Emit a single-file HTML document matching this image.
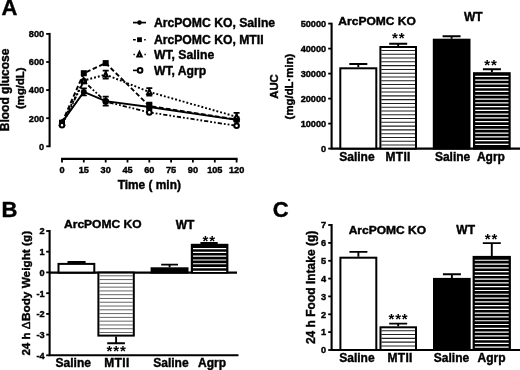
<!DOCTYPE html>
<html><head><meta charset="utf-8"><title>Figure</title>
<style>
html,body{margin:0;padding:0;background:#fff;}
body{width:520px;height:370px;overflow:hidden;}
svg{display:block;}
text.s{letter-spacing:0.9px;stroke:none}
text.m{letter-spacing:0.35px}
text{font-family:"Liberation Sans",sans-serif;font-weight:bold;fill:#000;stroke:#000;stroke-width:0.4px;}
.ax{stroke:#000;stroke-width:2.1;fill:none;}
.tk{stroke:#000;stroke-width:1.8;fill:none;}
.eb{stroke:#000;stroke-width:1.9;fill:none;}
.hl{stroke:#222;stroke-width:1.05;fill:none;}
.hw{stroke:#fff;stroke-width:1.2;fill:none;}
</style></head><body>
<svg width="520" height="370" viewBox="0 0 520 370">
<rect width="520" height="370" fill="#fff"/>

<text x="1.4" y="15.3" font-size="22" text-anchor="start" >A</text>
<path class="ax" d="M49.6,32.9 V147.20000000000002"/>
<path class="tk" d="M46.2,146.3 H49.6"/>
<text x="44.2" y="149.6" font-size="9.2" text-anchor="end" >0</text>
<path class="tk" d="M46.2,118.2 H49.6"/>
<text x="44.2" y="121.5" font-size="9.2" text-anchor="end" >200</text>
<path class="tk" d="M46.2,90.1 H49.6"/>
<text x="44.2" y="93.4" font-size="9.2" text-anchor="end" >400</text>
<path class="tk" d="M46.2,62.0 H49.6"/>
<text x="44.2" y="65.3" font-size="9.2" text-anchor="end" >600</text>
<path class="tk" d="M46.2,33.9 H49.6"/>
<text x="44.2" y="37.2" font-size="9.2" text-anchor="end" >800</text>
<path class="ax" d="M61.0,158.9 H237.6"/>
<path class="tk" d="M62.0,158.9 V162.5"/>
<text x="62.0" y="172.9" font-size="9.2" text-anchor="middle" >0</text>
<path class="tk" d="M83.8,158.9 V162.5"/>
<text x="83.8" y="172.9" font-size="9.2" text-anchor="middle" >15</text>
<path class="tk" d="M105.7,158.9 V162.5"/>
<text x="105.7" y="172.9" font-size="9.2" text-anchor="middle" >30</text>
<path class="tk" d="M127.5,158.9 V162.5"/>
<text x="127.5" y="172.9" font-size="9.2" text-anchor="middle" >45</text>
<path class="tk" d="M149.3,158.9 V162.5"/>
<text x="149.3" y="172.9" font-size="9.2" text-anchor="middle" >60</text>
<path class="tk" d="M171.1,158.9 V162.5"/>
<text x="171.1" y="172.9" font-size="9.2" text-anchor="middle" >75</text>
<path class="tk" d="M192.9,158.9 V162.5"/>
<text x="192.9" y="172.9" font-size="9.2" text-anchor="middle" >90</text>
<path class="tk" d="M214.8,158.9 V162.5"/>
<text x="214.8" y="172.9" font-size="9.2" text-anchor="middle" >105</text>
<path class="tk" d="M236.6,158.9 V162.5"/>
<text x="236.6" y="172.9" font-size="9.2" text-anchor="middle" >120</text>
<text x="149.3" y="188.5" font-size="11.9" text-anchor="middle" >Time ( min)</text>
<text transform="translate(9.1,89.9) rotate(-90)" font-size="12" text-anchor="middle" >Blood glucose</text>
<text transform="translate(23.6,88.2) rotate(-90)" font-size="11.3" text-anchor="middle" >(mg/dL)</text>
<polyline points="62.0,123.1 83.8,80.5 105.7,74.6 149.3,91.9 236.6,116.8" fill="none" stroke="#000" stroke-width="1.9" stroke-dasharray="1.9 2.0"/>
<polyline points="62.0,125.2 83.8,81.2 105.7,101.6 149.3,112.4 236.6,125.8" fill="none" stroke="#000" stroke-width="1.8" stroke-dasharray="4.2 2 1.8 2 1.8 2"/>
<polyline points="62.0,122.7 83.8,73.2 105.7,63.1 149.3,106.0 236.6,119.5" fill="none" stroke="#000" stroke-width="1.9" stroke-dasharray="4.6 2.5"/>
<polyline points="62.0,122.4 83.8,91.9 105.7,101.1 149.3,107.0 236.6,119.9" fill="none" stroke="#000" stroke-width="1.9"/>
<circle cx="105.7" cy="101.6" r="2.3" fill="#fff" stroke="#000" stroke-width="2"/>
<circle cx="62.0" cy="122.4" r="3.0" fill="#000"/>
<path d="M83.8,88.3 V95.5 M80.8,88.3 h6 M80.8,95.5 h6" stroke="#000" stroke-width="1.7" fill="none"/>
<circle cx="83.8" cy="91.9" r="3.0" fill="#000"/>
<path d="M105.7,96.6 V105.6 M102.7,96.6 h6 M102.7,105.6 h6" stroke="#000" stroke-width="1.7" fill="none"/>
<circle cx="105.7" cy="101.1" r="3.0" fill="#000"/>
<circle cx="149.3" cy="107.0" r="3.0" fill="#000"/>
<circle cx="236.6" cy="119.9" r="3.0" fill="#000"/>
<rect x="59.0" y="119.7" width="6.0" height="6.0" fill="#000"/>
<rect x="80.8" y="70.2" width="6.0" height="6.0" fill="#000"/>
<rect x="102.7" y="60.1" width="6.0" height="6.0" fill="#000"/>
<path d="M149.3,102.6 V109.4 M146.3,102.6 h6 M146.3,109.4 h6" stroke="#000" stroke-width="1.7" fill="none"/>
<rect x="146.3" y="103.0" width="6.0" height="6.0" fill="#000"/>
<rect x="233.6" y="116.5" width="6.0" height="6.0" fill="#000"/>
<path d="M62.0,120.7 L64.1,125.1 H59.9 Z" fill="#fff" stroke="#000" stroke-width="2" stroke-linejoin="miter"/>
<path d="M83.8,78.1 L85.9,82.5 H81.7 Z" fill="#fff" stroke="#000" stroke-width="2" stroke-linejoin="miter"/>
<path d="M105.7,70.6 V78.6 M102.7,70.6 h6 M102.7,78.6 h6" stroke="#000" stroke-width="1.7" fill="none"/>
<path d="M105.7,72.2 L107.8,76.6 H103.6 Z" fill="#fff" stroke="#000" stroke-width="2" stroke-linejoin="miter"/>
<path d="M149.3,88.1 V95.7 M146.3,88.1 h6 M146.3,95.7 h6" stroke="#000" stroke-width="1.7" fill="none"/>
<path d="M149.3,89.5 L151.4,93.9 H147.2 Z" fill="#fff" stroke="#000" stroke-width="2" stroke-linejoin="miter"/>
<path d="M236.6,112.8 V120.8 M233.6,112.8 h6 M233.6,120.8 h6" stroke="#000" stroke-width="1.7" fill="none"/>
<path d="M236.6,114.4 L238.7,118.8 H234.5 Z" fill="#fff" stroke="#000" stroke-width="2" stroke-linejoin="miter"/>
<circle cx="62.0" cy="125.2" r="2.3" fill="#fff" stroke="#000" stroke-width="2"/>
<circle cx="83.8" cy="81.2" r="2.3" fill="none" stroke="#000" stroke-width="2"/>
<circle cx="149.3" cy="112.4" r="2.3" fill="#fff" stroke="#000" stroke-width="2"/>
<circle cx="236.6" cy="125.8" r="2.3" fill="#fff" stroke="#000" stroke-width="2"/>
<path d="M133,22.6 H146" stroke="#000" stroke-width="1.7"/>
<circle cx="139.5" cy="22.6" r="2.3" fill="#000"/>
<path d="M133,39.7 h2.8 M144.2,39.7 h1.5" stroke="#000" stroke-width="1.6"/>
<rect x="137.1" y="37.3" width="4.8" height="4.8" fill="#000"/>
<path d="M133.5,54.6 h1.4 M144.4,54.6 h1.4" stroke="#000" stroke-width="1.5"/>
<path d="M139.5,51.9 L141.7,56.5 H137.3 Z" fill="#fff" stroke="#000" stroke-width="2" stroke-linejoin="miter"/>
<path d="M133,70.4 H137.5" stroke="#000" stroke-width="1.6"/>
<circle cx="140.1" cy="70.4" r="2.3" fill="#fff" stroke="#000" stroke-width="2"/>
<text x="153.9" y="26.9" font-size="12.2" text-anchor="start" >ArcPOMC KO, Saline</text>
<text x="153.9" y="43.8" font-size="12.2" text-anchor="start" >ArcPOMC KO, MTII</text>
<text x="153.9" y="58.6" font-size="12.2" text-anchor="start" >WT, Saline</text>
<text x="153.9" y="74.5" font-size="12.2" text-anchor="start" >WT, Agrp</text>
<path class="ax" d="M331.6,22.8 V148.6 M330.55,148.6 H520"/>
<path class="tk" d="M328.20000000000005,148.6 H331.6"/>
<text x="326.2" y="151.9" font-size="9.2" text-anchor="end" >0</text>
<path class="tk" d="M328.20000000000005,123.6 H331.6"/>
<text x="326.2" y="126.9" font-size="9.2" text-anchor="end" >10000</text>
<path class="tk" d="M328.20000000000005,98.6 H331.6"/>
<text x="326.2" y="101.9" font-size="9.2" text-anchor="end" >20000</text>
<path class="tk" d="M328.20000000000005,73.6 H331.6"/>
<text x="326.2" y="76.9" font-size="9.2" text-anchor="end" >30000</text>
<path class="tk" d="M328.20000000000005,48.6 H331.6"/>
<text x="326.2" y="51.9" font-size="9.2" text-anchor="end" >40000</text>
<path class="tk" d="M328.20000000000005,23.6 H331.6"/>
<text x="326.2" y="26.9" font-size="9.2" text-anchor="end" >50000</text>
<text transform="translate(277.8,86.5) rotate(-90)" font-size="11.3" text-anchor="middle" >AUC</text>
<text transform="translate(293.1,86.5) rotate(-90)" font-size="11.4" text-anchor="middle" >(mg/dL·min)</text>
<path class="eb" d="M358.3,67.3 V64.0 M349.3,64.0 H367.3"/>
<rect x="340.30" y="68.30" width="36.00" height="80.30" fill="#fff" stroke="#000" stroke-width="2.0"/>
<path class="eb" d="M398.2,46.0 V43.8 M389.2,43.8 H407.2"/>
<rect x="380.40" y="47.00" width="35.60" height="101.60" fill="#fff" stroke="#000" stroke-width="2.0"/>
<path class="hl" d="M381.30,50.50H415.10M381.30,54.28H415.10M381.30,58.06H415.10M381.30,61.84H415.10M381.30,65.62H415.10M381.30,69.40H415.10M381.30,73.18H415.10M381.30,76.96H415.10M381.30,80.74H415.10M381.30,84.52H415.10M381.30,88.30H415.10M381.30,92.08H415.10M381.30,95.86H415.10M381.30,99.64H415.10M381.30,103.42H415.10M381.30,107.20H415.10M381.30,110.98H415.10M381.30,114.76H415.10M381.30,118.54H415.10M381.30,122.32H415.10M381.30,126.10H415.10M381.30,129.88H415.10M381.30,133.66H415.10M381.30,137.44H415.10M381.30,141.22H415.10M381.30,145.00H415.10"/>
<path class="eb" d="M451.6,38.7 V36.3 M442.6,36.3 H460.6"/>
<rect x="433.80" y="39.70" width="35.70" height="108.90" fill="#000" stroke="#000" stroke-width="2.0"/>
<path class="eb" d="M491.9,72.2 V69.3 M482.9,69.3 H500.9"/>
<rect x="474.00" y="73.20" width="35.70" height="75.40" fill="#000" stroke="#000" stroke-width="2.0"/>
<path class="hw" d="M475.20,76.35H508.50M475.20,80.13H508.50M475.20,83.91H508.50M475.20,87.69H508.50M475.20,91.47H508.50M475.20,95.25H508.50M475.20,99.03H508.50M475.20,102.81H508.50M475.20,106.59H508.50M475.20,110.37H508.50M475.20,114.15H508.50M475.20,117.93H508.50M475.20,121.71H508.50M475.20,125.49H508.50M475.20,129.27H508.50M475.20,133.05H508.50M475.20,136.83H508.50M475.20,140.61H508.50M475.20,144.39H508.50"/>
<text transform="translate(377.1,24.6) scale(1.125,1)" font-size="10.7" text-anchor="middle">ArcPOMC KO</text>
<text x="473.3" y="21.2" font-size="12" text-anchor="middle" >WT</text>
<text x="398.8" y="43.4" font-size="15" text-anchor="middle" class="s">**</text>
<text x="491.0" y="70.4" font-size="15" text-anchor="middle" class="s">**</text>
<text x="356.9" y="160.7" font-size="12" text-anchor="middle" >Saline</text>
<text x="398.1" y="160.7" font-size="12" text-anchor="middle" class="m">MTII</text>
<text x="452.6" y="160.7" font-size="12" text-anchor="middle" >Saline</text>
<text x="490.9" y="160.7" font-size="12" text-anchor="middle" >Agrp</text>
<text x="1.4" y="216.6" font-size="22" text-anchor="start" >B</text>
<path class="ax" d="M49.6,230.01 V355.25 M48.550000000000004,355.25 H238.5"/>
<path class="ax" d="M49.6,272.6 H237"/>
<path class="tk" d="M46.2,355.3 H49.6"/>
<text x="44.7" y="358.6" font-size="9.2" text-anchor="end" >-4</text>
<path class="tk" d="M46.2,334.6 H49.6"/>
<text x="44.7" y="337.9" font-size="9.2" text-anchor="end" >-3</text>
<path class="tk" d="M46.2,313.9 H49.6"/>
<text x="44.7" y="317.2" font-size="9.2" text-anchor="end" >-2</text>
<path class="tk" d="M46.2,293.2 H49.6"/>
<text x="44.7" y="296.5" font-size="9.2" text-anchor="end" >-1</text>
<path class="tk" d="M46.2,272.4 H49.6"/>
<text x="44.7" y="275.8" font-size="9.2" text-anchor="end" >0</text>
<path class="tk" d="M46.2,251.7 H49.6"/>
<text x="44.7" y="255.0" font-size="9.2" text-anchor="end" >1</text>
<path class="tk" d="M46.2,231.0 H49.6"/>
<text x="44.7" y="234.3" font-size="9.2" text-anchor="end" >2</text>
<text transform="translate(29.9,355.6) rotate(-90)" font-size="11.6" text-anchor="start" >24 h</text>
<text transform="translate(29.9,329.2) rotate(-90)" font-size="11.6" text-anchor="start" style="font-weight:normal">Δ</text>
<text transform="translate(29.9,321.1) rotate(-90)" font-size="11.8" text-anchor="start" >Body Weight (g)</text>
<path class="eb" d="M76.4,262.9 V262.0 M67.5,262.0 H85.6"/>
<rect x="58.50" y="263.90" width="35.80" height="8.70" fill="#fff" stroke="#000" stroke-width="2.0"/>
<path class="eb" d="M116.1,336.6 V343.2 M107.2,343.2 H124.9"/>
<rect x="98.40" y="272.60" width="35.40" height="63.00" fill="#fff" stroke="#000" stroke-width="2.0"/>
<path class="hl" style="stroke:#555;stroke-width:0.9" d="M99.30,275.80H132.90M99.30,279.58H132.90M99.30,283.36H132.90M99.30,287.14H132.90M99.30,290.92H132.90M99.30,294.70H132.90M99.30,298.48H132.90M99.30,302.26H132.90M99.30,306.04H132.90M99.30,309.82H132.90M99.30,313.60H132.90M99.30,317.38H132.90M99.30,321.16H132.90M99.30,324.94H132.90M99.30,328.72H132.90M99.30,332.50H132.90"/>
<path class="eb" d="M169.6,267.3 V264.6 M161.2,264.6 H178.0"/>
<rect x="151.60" y="268.30" width="35.90" height="4.30" fill="#000" stroke="#000" stroke-width="2.0"/>
<path class="eb" d="M209.6,243.8 V243.0 M200.4,243.0 H217.7"/>
<rect x="191.80" y="244.80" width="35.60" height="27.80" fill="#000" stroke="#000" stroke-width="2.0"/>
<path class="hw" d="M193.00,248.65H226.20M193.00,252.43H226.20M193.00,256.21H226.20M193.00,259.99H226.20M193.00,263.77H226.20M193.00,267.55H226.20M193.00,271.33H226.20"/>
<text transform="translate(102.8,228.1) scale(1.125,1)" font-size="10.7" text-anchor="middle">ArcPOMC KO</text>
<text x="185" y="229" font-size="12" text-anchor="middle" >WT</text>
<text x="116.7" y="355.9" font-size="15" text-anchor="middle" class="s">***</text>
<text x="209.3" y="245.6" font-size="15" text-anchor="middle" class="s">**</text>
<text x="73.3" y="367.1" font-size="12" text-anchor="middle" >Saline</text>
<text x="116.9" y="367.1" font-size="12" text-anchor="middle" class="m">MTII</text>
<text x="170.9" y="367.1" font-size="12" text-anchor="middle" >Saline</text>
<text x="212" y="367.1" font-size="12" text-anchor="middle" >Agrp</text>
<text x="272.8" y="217" font-size="22" text-anchor="start" >C</text>
<path class="ax" d="M331.6,224.04999999999998 V350.0 M330.55,350.0 H520"/>
<path class="tk" d="M328.20000000000005,350.0 H331.6"/>
<text x="326.2" y="353.3" font-size="9.2" text-anchor="end" >0</text>
<path class="tk" d="M328.20000000000005,332.1 H331.6"/>
<text x="326.2" y="335.4" font-size="9.2" text-anchor="end" >1</text>
<path class="tk" d="M328.20000000000005,314.3 H331.6"/>
<text x="326.2" y="317.6" font-size="9.2" text-anchor="end" >2</text>
<path class="tk" d="M328.20000000000005,296.4 H331.6"/>
<text x="326.2" y="299.8" font-size="9.2" text-anchor="end" >3</text>
<path class="tk" d="M328.20000000000005,278.6 H331.6"/>
<text x="326.2" y="281.9" font-size="9.2" text-anchor="end" >4</text>
<path class="tk" d="M328.20000000000005,260.8 H331.6"/>
<text x="326.2" y="264.1" font-size="9.2" text-anchor="end" >5</text>
<path class="tk" d="M328.20000000000005,242.9 H331.6"/>
<text x="326.2" y="246.2" font-size="9.2" text-anchor="end" >6</text>
<path class="tk" d="M328.20000000000005,225.0 H331.6"/>
<text x="326.2" y="228.3" font-size="9.2" text-anchor="end" >7</text>
<text transform="translate(315.4,287.4) rotate(-90)" font-size="12" text-anchor="middle" >24 h Food Intake (g)</text>
<path class="eb" d="M358.4,256.7 V251.9 M349.4,251.9 H367.4"/>
<rect x="340.40" y="257.70" width="35.90" height="92.30" fill="#fff" stroke="#000" stroke-width="2.0"/>
<path class="eb" d="M398.2,326.3 V323.6 M389.2,323.6 H407.2"/>
<rect x="380.50" y="327.30" width="35.50" height="22.70" fill="#fff" stroke="#000" stroke-width="2.0"/>
<path class="hl" d="M381.40,330.80H415.10M381.40,334.58H415.10M381.40,338.36H415.10M381.40,342.14H415.10M381.40,345.92H415.10"/>
<path class="eb" d="M451.9,277.9 V274.3 M442.9,274.3 H460.9"/>
<rect x="434.00" y="278.90" width="35.70" height="71.10" fill="#000" stroke="#000" stroke-width="2.0"/>
<path class="eb" d="M491.8,255.9 V243.1 M482.8,243.1 H500.8"/>
<rect x="473.60" y="256.90" width="36.30" height="93.10" fill="#000" stroke="#000" stroke-width="2.0"/>
<path class="hw" d="M474.80,260.25H508.70M474.80,264.03H508.70M474.80,267.81H508.70M474.80,271.59H508.70M474.80,275.37H508.70M474.80,279.15H508.70M474.80,282.93H508.70M474.80,286.71H508.70M474.80,290.49H508.70M474.80,294.27H508.70M474.80,298.05H508.70M474.80,301.83H508.70M474.80,305.61H508.70M474.80,309.39H508.70M474.80,313.17H508.70M474.80,316.95H508.70M474.80,320.73H508.70M474.80,324.51H508.70M474.80,328.29H508.70M474.80,332.07H508.70M474.80,335.85H508.70M474.80,339.63H508.70M474.80,343.41H508.70M474.80,347.19H508.70"/>
<text transform="translate(387.4,234.0) scale(1.125,1)" font-size="10.7" text-anchor="middle">ArcPOMC KO</text>
<text x="465.7" y="233.5" font-size="12" text-anchor="middle" >WT</text>
<text x="398.5" y="323.8" font-size="15" text-anchor="middle" class="s">***</text>
<text x="491.6" y="243.9" font-size="15" text-anchor="middle" class="s">**</text>
<text x="356.9" y="361.7" font-size="12" text-anchor="middle" >Saline</text>
<text x="400.1" y="361.7" font-size="12" text-anchor="middle" class="m">MTII</text>
<text x="451.5" y="361.7" font-size="12" text-anchor="middle" >Saline</text>
<text x="491.6" y="361.7" font-size="12" text-anchor="middle" >Agrp</text>
</svg></body></html>
